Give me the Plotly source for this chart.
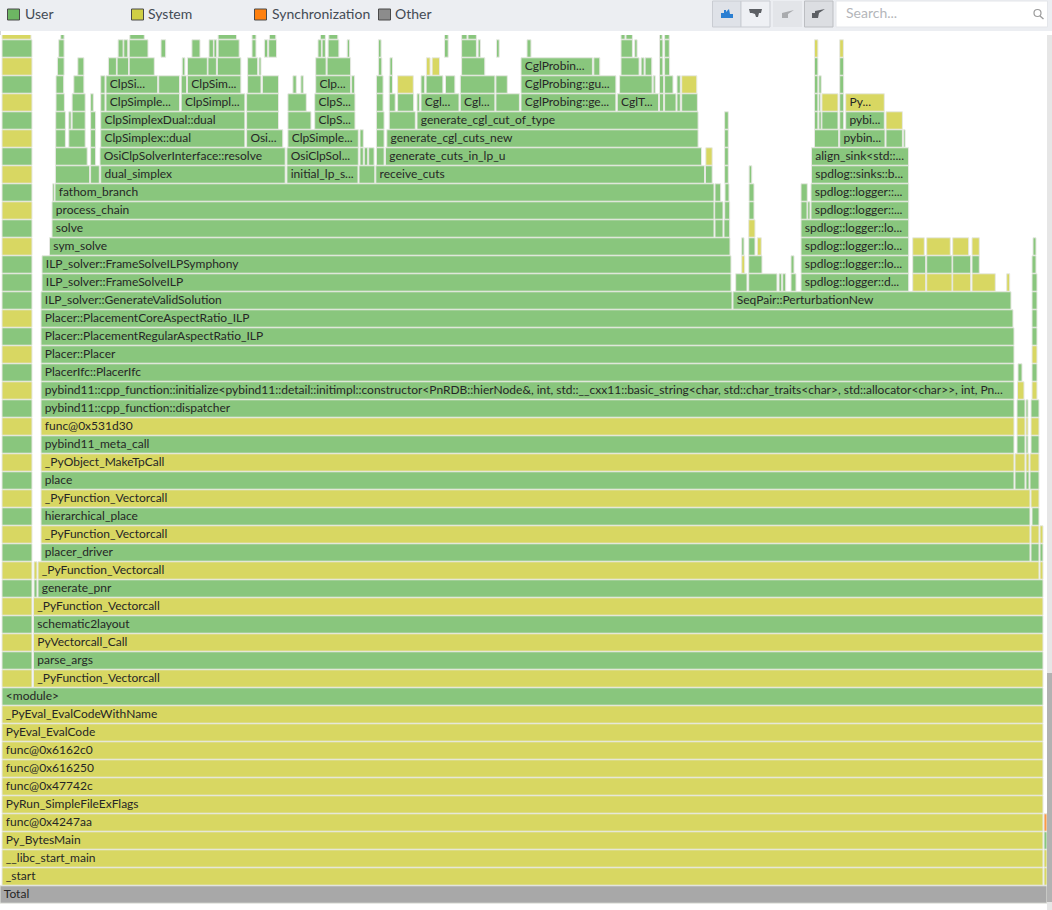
import plotly.graph_objects as go

# flame graph frames, one list per stack depth: (first sample, last sample, kind, name)
U, S, L, O = "user", "system", "sync", "other"

depth_00 = [(0, 1047, O, "Total")]
depth_01 = [(2, 1043, S, "_start"), (1044, 1047, S, "")]
depth_02 = [(2, 1043, S, "__libc_start_main"), (1044, 1047, S, "")]
depth_03 = [(2, 1043, S, "Py_BytesMain"), (1044, 1047, U, "")]
depth_04 = [(2, 1043, S, "func@0x4247aa"), (1044, 1047, L, "")]
depth_05 = [(2, 1043, S, "PyRun_SimpleFileExFlags")]
depth_06 = [(2, 1043, S, "func@0x47742c")]
depth_07 = [(2, 1043, S, "func@0x616250")]
depth_08 = [(2, 1043, S, "func@0x6162c0")]
depth_09 = [(2, 1043, S, "PyEval_EvalCode")]
depth_10 = [(2, 1043, S, "_PyEval_EvalCodeWithName")]
depth_11 = [(2, 1043, U, "<module>")]
depth_12 = [(2, 32, S, ""), (33.5, 1043, S, "_PyFunction_Vectorcall")]
depth_13 = [(2, 32, U, ""), (33.5, 1043, U, "parse_args")]
depth_14 = [(2, 32, S, ""), (33.5, 1043, S, "PyVectorcall_Call")]
depth_15 = [(2, 32, U, ""), (33.5, 1043, U, "schematic2layout")]
depth_16 = [(2, 32, S, ""), (33.5, 1043, S, "_PyFunction_Vectorcall")]
depth_17 = [(2, 32, U, ""), (34, 37, U, ""), (38, 1043, U, "generate_pnr")]
depth_18 = [(2, 32, S, ""), (34, 37, S, ""), (38, 1039, S, "_PyFunction_Vectorcall"), (1040, 1043, S, "")]
depth_19 = [(2, 32, U, ""), (41, 1030, U, "placer_driver"), (1031, 1039, U, ""), (1040, 1043, U, "")]
depth_20 = [(2, 32, S, ""), (41, 1030, S, "_PyFunction_Vectorcall"), (1031, 1039, S, ""), (1040, 1043, S, "")]
depth_21 = [(2, 32, U, ""), (41, 1030, U, "hierarchical_place"), (1032, 1039, U, "")]
depth_22 = [(2, 32, S, ""), (41, 1030, S, "_PyFunction_Vectorcall"), (1031, 1039, S, "")]
depth_23 = [(2, 32, U, ""), (41, 1014, U, "place"), (1015, 1025, U, ""), (1026, 1029, U, ""), (1030, 1039, U, "")]
depth_24 = [(2, 32, S, ""), (41, 1014, S, "_PyObject_MakeTpCall"), (1015, 1025, S, ""), (1026, 1029, S, ""), (1030, 1039, S, "")]
depth_25 = [(2, 32, U, ""), (41, 1014, U, "pybind11_meta_call"), (1017, 1025, U, ""), (1026, 1028, U, ""), (1031, 1039, U, "")]
depth_26 = [(2, 32, S, ""), (41, 1014, S, "func@0x531d30"), (1017, 1025, S, ""), (1026, 1028, S, ""), (1031, 1039, S, "")]
depth_27 = [(2, 32, U, ""), (41, 1014, U, "pybind11::cpp_function::dispatcher"), (1017, 1025, U, ""), (1026, 1028, U, ""), (1031, 1039, U, "")]
depth_28 = [(2, 32, S, ""), (41, 1014, U, "pybind11::cpp_function::initialize<pybind11::detail::initimpl::constructor<PnRDB::hierNode&, int, std::__cxx11::basic_string<char, std::char_traits<char>, std::allocator<char>>, int, Pn..."), (1017.5, 1024, S, ""), (1032, 1037, S, "")]
depth_29 = [(2, 32, U, ""), (41, 1014, U, "PlacerIfc::PlacerIfc"), (1018, 1022, U, ""), (1032, 1037, U, "")]
depth_30 = [(2, 32, S, ""), (41, 1014, U, "Placer::Placer"), (1032, 1037, S, "")]
depth_31 = [(2, 32, U, ""), (41, 1014, U, "Placer::PlacementRegularAspectRatio_ILP"), (1032, 1037, U, "")]
depth_32 = [(2, 32, S, ""), (41, 1013, U, "Placer::PlacementCoreAspectRatio_ILP"), (1032, 1037, U, "")]
depth_33 = [(2, 32, U, ""), (41, 732, U, "ILP_solver::GenerateValidSolution"), (733, 1011, U, "SeqPair::PerturbationNew"), (1032, 1037, U, "")]
depth_34 = [(2, 32, U, ""), (42, 731, U, "ILP_solver::FrameSolveILP"), (735.7, 747, U, ""), (748.7, 777, U, ""),
            (779, 781.7, U, ""), (782.7, 785.7, U, ""), (791, 796, U, ""), (801, 908.7, U, "spdlog::logger::d..."),
            (912.7, 925.7, S, ""), (926.7, 952, S, ""), (952.7, 970.7, S, ""), (972, 995.3, S, ""), (1006.7, 1009.7, S, ""), (1032, 1037, U, "")]
depth_35 = [(2, 32, U, ""), (42, 731, U, "ILP_solver::FrameSolveILPSymphony"), (741.7, 744.7, S, ""), (748.7, 762, U, ""),
            (791, 794, U, ""), (801, 908.7, U, "spdlog::logger::lo..."), (912.7, 925.7, U, ""), (926.7, 952, U, ""),
            (952.7, 970.7, U, ""), (972, 979.3, U, ""), (1032, 1036, U, "")]
depth_36 = [(2, 32, S, ""), (49.5, 730, U, "sym_solve"), (741.7, 744, U, ""), (748.7, 755, U, ""), (757.3, 761.3, S, ""),
            (801, 908.7, U, "spdlog::logger::lo..."), (912.7, 924.3, S, ""), (926.7, 950.3, S, ""), (952.7, 968.7, S, ""),
            (972, 979.3, S, ""), (1033, 1036, U, "")]
depth_37 = [(2, 32, U, ""), (52, 714, U, "solve"), (715, 723, U, ""), (724, 729.7, U, ""), (748.7, 755, S, ""),
            (801, 908.7, U, "spdlog::logger::lo...")]
depth_38 = [(2, 32, S, ""), (52, 714, U, "process_chain"), (714.7, 723, U, ""), (724.7, 729.7, U, ""), (749, 754, U, ""),
            (801, 807, U, ""), (807.7, 810, U, ""), (811, 908.7, U, "spdlog::logger::...")]
depth_39 = [(2, 32, U, ""), (52.7, 54.3, U, ""), (55, 714, U, "fathom_branch"), (715, 720.7, U, ""), (725, 729, U, ""),
            (749, 754, U, ""), (801, 807.3, U, ""), (811, 908.7, U, "spdlog::logger::...")]
depth_40 = [(2, 32, S, ""), (55.4, 89.6, U, ""), (90.6, 99.3, U, ""), (100.7, 285.2, U, "dual_simplex"), (286.9, 358, U, "initial_lp_s..."),
            (359, 374.8, U, ""), (375.8, 704.5, U, "receive_cuts"), (705.5, 712.2, U, ""), (724.6, 728.3, U, ""),
            (749.1, 751.8, U, ""), (811.5, 908.5, U, "spdlog::sinks::b...")]
depth_41 = [(2, 32, U, ""), (55.4, 87.2, U, ""), (90.6, 95.6, U, ""), (100, 285.2, U, "OsiClpSolverInterface::resolve"),
            (286.9, 358.3, U, "OsiClpSol..."), (360, 363.3, U, ""), (364.3, 367.7, U, ""), (368.7, 374.1, U, ""), (376.4, 384.1, U, ""),
            (385.5, 701.5, U, "generate_cuts_in_lp_u"), (705.8, 712.2, S, ""), (724.6, 728.3, U, ""), (811.5, 908.5, U, "align_sink<std::...")]
depth_42 = [(2, 32, S, ""), (55.7, 65.4, U, ""), (68.8, 85.2, U, ""), (90.6, 95.6, U, ""), (100.7, 244.9, U, "ClpSimplex::dual"),
            (246.6, 282.8, U, "Osi..."), (287.9, 358.3, U, "ClpSimple..."), (360, 363.3, U, ""), (376.4, 384.1, U, ""),
            (386.8, 698.1, U, "generate_cgl_cuts_new"), (724.6, 728.3, U, ""), (814.5, 838.7, U, ""), (839.7, 885, U, "pybin..."),
            (886, 902.4, U, ""), (903.4, 905.1, U, "")]
depth_43 = [(2, 32, U, ""), (55.7, 65.4, U, ""), (68.8, 71.1, U, ""), (72.1, 85.2, U, ""), (90.6, 95.6, U, ""),
            (100.7, 244.9, U, "ClpSimplexDual::dual"), (246.6, 278.5, U, ""), (287.9, 311, U, ""), (314.7, 355, U, "ClpS..."),
            (376.4, 384.1, U, ""), (389.2, 415.3, U, ""), (417, 698.1, U, "generate_cgl_cut_of_type"), (724.6, 728.3, U, ""),
            (814.5, 817.9, U, ""), (818.9, 821.2, U, ""), (821.9, 838, U, ""), (839.7, 843.7, U, ""), (845.7, 884.3, U, "pybi..."),
            (886, 902.4, S, "")]
depth_44 = [(2, 32, S, ""), (56, 64.4, U, ""), (72.1, 85.2, U, ""), (90.6, 93.3, U, ""), (100.7, 105, U, ""),
            (106, 179.5, U, "ClpSimple..."), (181.2, 244.9, U, "ClpSimpl..."), (246.6, 278.5, U, ""), (287.9, 306.3, U, ""),
            (314.7, 355, U, "ClpS..."), (376.4, 383.1, U, ""), (389.2, 395.2, U, ""), (397.6, 413.7, U, ""), (417, 419.4, U, ""),
            (421, 459, U, "Cgl..."), (460.3, 494.9, U, "Cgl..."), (495.9, 519.4, U, ""), (521, 615.9, U, "CglProbing::ge..."),
            (617.3, 658.5, U, "CglT..."), (659.5, 663.6, U, ""), (664.6, 676, U, ""), (677, 680.3, U, ""), (681.7, 697.4, U, ""),
            (814.5, 817.9, U, ""), (818.9, 820.6, U, ""), (821.9, 838, S, ""), (839.7, 843.7, U, ""), (845.7, 884.3, S, "Py...")]
depth_45 = [(2, 32, U, ""), (56, 63.7, U, ""), (73.8, 83.9, U, ""), (100.7, 105, U, ""), (106, 157.7, U, "ClpSi..."),
            (158.7, 179.5, U, ""), (181.2, 186.5, U, ""), (187.5, 240.9, U, "ClpSim..."), (247.6, 261, U, ""), (262.4, 278.5, U, ""),
            (292.9, 296.3, U, ""), (300.9, 303.3, U, ""), (315.7, 350.6, U, "Clp..."), (351.6, 354.6, U, ""), (376.4, 383.1, U, ""),
            (389.2, 392.5, U, ""), (397.6, 413.3, S, ""), (421, 424.7, U, ""), (426.1, 442.9, U, ""), (445.5, 454.9, U, ""),
            (460.3, 494.9, U, ""), (495.9, 507.3, U, ""), (521, 615.9, U, "CglProbing::gu..."), (619.6, 652.1, U, ""),
            (653.2, 655.2, U, ""), (659.5, 663.6, U, ""), (664.6, 673, U, ""), (677, 680.3, U, ""), (681.7, 696.8, S, ""),
            (814.5, 817.9, U, ""), (818.9, 821.2, U, ""), (839.7, 843.7, U, "")]
depth_46 = [(2, 32, S, ""), (57.4, 64.1, U, ""), (77.8, 83.9, U, ""), (108.4, 116.4, U, ""), (117.1, 128.5, U, ""), (129.2, 154.3, U, ""),
            (182.2, 184.9, U, ""), (187.5, 207.3, U, ""), (208, 216.4, U, ""), (217.4, 240.9, U, ""), (247.6, 257.7, U, ""), (259, 261, U, ""),
            (315.7, 326.1, U, ""), (327.1, 350.6, U, ""), (378.4, 381.8, U, ""), (389.9, 392.5, U, ""), (426.4, 430.1, S, ""), (432.1, 439.5, S, ""),
            (461.6, 484.8, U, ""), (521, 592.4, U, "CglProbin..."), (593.8, 599.8, U, ""), (621, 639.1, U, ""), (641.1, 644.1, U, ""),
            (645.1, 651.8, U, ""), (659.5, 662.9, U, ""), (664.6, 669.6, U, ""), (814.5, 817.9, U, ""), (839.7, 843.7, U, "")]
depth_47 = [(2, 32, U, ""), (58.7, 64.1, U, ""), (118.1, 123.1, U, ""), (123.8, 127.8, U, ""), (129.2, 148, U, ""), (161, 165.7, U, ""),
            (191.9, 200, U, ""), (209, 213.4, U, ""), (214, 216.7, U, ""), (218.1, 239.2, U, ""), (252, 256, U, ""),
            (264.4, 267.7, U, ""), (268.7, 276.5, U, ""), (318, 321.4, U, ""), (322.1, 325.4, U, ""), (328.1, 338.9, U, ""), (347.2, 349.6, U, ""),
            (378.4, 381.1, U, ""), (444.5, 448.2, U, ""), (461.6, 476.4, U, ""), (478.1, 480.4, U, ""), (496.5, 499.2, U, ""), (527, 531, U, ""),
            (621, 632.4, U, ""), (634.7, 637.1, U, ""), (659.5, 662.9, U, ""), (664.6, 669.3, U, ""), (814.5, 817.9, S, ""), (839.7, 843.4, S, "")]
depth_48 = [(2, 31, S, ""), (60.7, 64.1, U, ""), (129.8, 144.3, U, ""), (218.1, 236.5, U, ""), (252, 256, U, ""), (269.4, 275.8, U, ""),
            (320.4, 325.4, U, ""), (328.8, 337.8, U, ""), (444.5, 448.2, U, ""), (461.6, 467, U, ""), (468, 476.4, U, ""),
            (621, 625, U, ""), (626, 632.4, U, ""), (659.5, 662.2, U, ""), (664.6, 669.3, U, "")]

stacks = [depth_00, depth_01, depth_02, depth_03, depth_04, depth_05, depth_06, depth_07, depth_08, depth_09,
          depth_10, depth_11, depth_12, depth_13, depth_14, depth_15, depth_16, depth_17, depth_18, depth_19,
          depth_20, depth_21, depth_22, depth_23, depth_24, depth_25, depth_26, depth_27, depth_28, depth_29,
          depth_30, depth_31, depth_32, depth_33, depth_34, depth_35, depth_36, depth_37, depth_38, depth_39,
          depth_40, depth_41, depth_42, depth_43, depth_44, depth_45, depth_46, depth_47, depth_48]

legend_names = ["User", "System", "Synchronization", "Other"]

frame_colors = {U: "#89c67d", S: "#d8d762", L: "#fb9a47", O: "#a8a8a8"}
box_colors = ["#6db663", "#d0cf45", "#ff800e", "#8c8c8c"]
legend_box_x = [7, 131, 254, 378]
legend_text_x = [22.5, 145.6, 269.5, 392.6]
FONT = "Lato"
W, H = 1052, 910
TOP = 35
ROW0 = 894.5  # pixel centre of the Total row


def X(p):
    return p / W


def Y(p):
    return 1 - p / H


def box(x0, y0, x1, y1, fill, line=None, layer="above"):
    return dict(type="rect", xref="paper", yref="paper", x0=X(x0), x1=X(x1), y0=Y(y0), y1=Y(y1),
                fillcolor=fill, line=dict(color=line or fill, width=1 if line else 0), layer=layer)


def poly(points, fill=None, line=None, width=1):
    d = "M " + " L ".join("%.5f,%.5f" % (X(a), Y(b)) for a, b in points)
    if fill:
        d += " Z"
    return dict(type="path", xref="paper", yref="paper", path=d, fillcolor=fill or "rgba(0,0,0,0)",
                line=dict(color=line or fill, width=width if line else 0), layer="above")


fig = go.Figure()

for kind in [U, S, L, O]:
    picked = [(d, f) for d, row in enumerate(stacks) for f in row if f[2] == kind]
    fig.add_trace(go.Bar(
        y=[d for d, f in picked],
        base=[f[0] for d, f in picked],
        x=[f[1] - f[0] for d, f in picked],
        orientation="h",
        width=0.97,
        name=kind,
        marker=dict(color=frame_colors[kind], line=dict(color="#e6e8e2", width=1)),
        hovertext=[f[3] for d, f in picked],
        hoverinfo="text",
    ))

named = [(d, f) for d, row in enumerate(stacks) for f in row if f[3]]
fig.add_trace(go.Scatter(
    x=[f[0] + 3.8 for d, f in named],
    y=[d for d, f in named],
    text=[f[3] for d, f in named],
    mode="text",
    textposition="middle right",
    textfont=dict(family=FONT, size=12, color="#262626"),
    hoverinfo="skip",
))

shapes = [
    box(0, 0, W, 31, "#eceef2"),
    box(0, 31, 1, 35, "#d8d8d8"),
    box(1047, TOP, W, H, "#e6e6e6"),
    box(1047, 673, W, 902, "#b2b2b2"),
    # toolbar
    box(712.5, 1, 741, 27, "#dfe2e8", "#c9ccd2"),
    box(741, 1, 770, 27, "#eef0f4", "#c9ccd2"),
    box(773, 1, 802, 27, "#e3e5e9"),
    box(804.5, 1, 833, 27, "#dcdee2", "#bcbec2"),
    box(836, 1, 1047.5, 27, "#ffffff", "#e4e6ea"),
    # flame icons
    poly([(721, 18), (721, 13), (724, 13), (724, 10), (726, 10), (726, 12), (729, 9), (730, 14), (733, 14), (733, 18)], "#2b7fd2"),
    poly([(749, 9), (762, 9), (761, 13), (759, 13), (758, 17), (756, 17), (755, 14), (752, 13), (750, 13)], "#5c5f64"),
    poly([(782, 18), (782, 13), (794, 10), (788, 14), (788, 18)], "#a9abae"),
    poly([(812, 18), (812, 13), (815, 13), (815, 11), (825, 9), (819, 13), (818, 18)], "#5c5f64"),
    # search glass
    dict(type="circle", xref="paper", yref="paper", x0=X(1034), x1=X(1041), y0=Y(16.5), y1=Y(9.5),
         line=dict(color="#9b9b9b", width=1.2), layer="above"),
    poly([(1040, 16), (1043.5, 19)], None, "#9b9b9b", 1.4),
]
for lx, c in zip(legend_box_x, box_colors):
    shapes.append(box(lx + 0.5, 9, lx + 12.5, 20, c, "#4a4a4a"))

annotations = [
    dict(x=X(lx), y=Y(13.5), xref="paper", yref="paper", text=name, showarrow=False, xanchor="left",
         yanchor="middle", font=dict(family=FONT, size=14, color="#444b55"))
    for lx, name in zip(legend_text_x, legend_names)
]
annotations.append(dict(x=X(844), y=Y(13), xref="paper", yref="paper", text="Search...", showarrow=False,
                        xanchor="left", yanchor="middle", font=dict(family=FONT, size=14, color="#b4b6ba")))

fig.update_layout(
    width=W,
    height=H,
    autosize=False,
    margin=dict(l=0, r=0, t=0, b=0),
    barmode="overlay",
    showlegend=False,
    plot_bgcolor="#ffffff",
    paper_bgcolor="#ffffff",
    xaxis=dict(range=[0, W], visible=False, fixedrange=True),
    yaxis=dict(range=[(ROW0 - H) / 18, (ROW0 - TOP) / 18], domain=[0, 1 - TOP / H], visible=False, fixedrange=True),
    shapes=shapes,
    annotations=annotations,
)

fig.write_html("out.html", config=dict(displayModeBar=False),
               post_script="document.body.style.margin='0';document.body.style.overflow='hidden';")
